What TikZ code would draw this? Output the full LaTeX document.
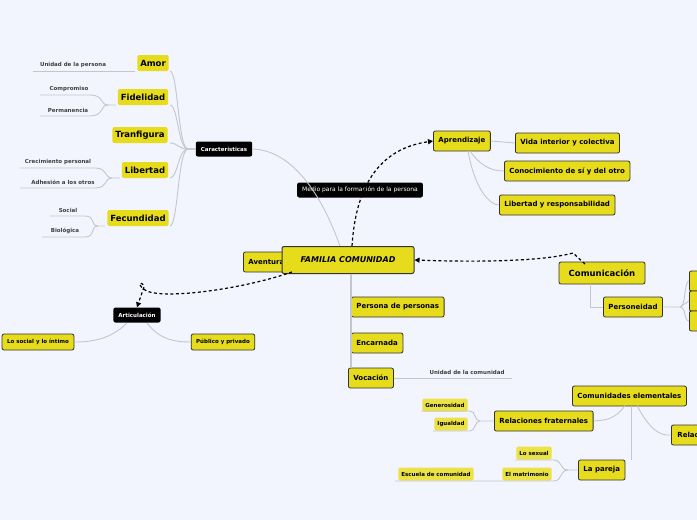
\documentclass[tikz,border=0pt]{standalone}
\usepackage{fontspec}
\setmainfont{DejaVu Sans}
\usetikzlibrary{arrows.meta}
\definecolor{bg}{HTML}{F2F5FE}
\definecolor{yel}{HTML}{E6DC1C}
\definecolor{lyel}{HTML}{EBE245}
\definecolor{edge}{HTML}{C4C6CC}
\tikzset{
 yb/.style={draw=black!80,line width=0.8pt,fill=yel,rounded corners=2pt,font=\bfseries\fontsize{7}{8}\selectfont,minimum height=20pt,inner xsep=5pt},
 yt/.style={fill=yel,rounded corners=2pt,font=\bfseries\fontsize{8.5}{9}\selectfont,minimum height=16pt,inner xsep=3pt},
 ly/.style={fill=lyel,rounded corners=1.5pt,font=\bfseries\fontsize{5.5}{6}\selectfont,minimum height=13pt,inner xsep=3pt},
 bk/.style={fill=black,text=white,rounded corners=2pt,font=\bfseries\fontsize{5.5}{6}\selectfont,minimum height=15pt,inner xsep=5pt},
 lb/.style={font=\bfseries\fontsize{5.5}{6}\selectfont,text=black!75},
 ed/.style={draw=edge,line width=0.9pt},
 da/.style={draw=black,line width=1.2pt,dash pattern=on 3pt off 2.5pt,-{Triangle[length=5pt,width=5pt]}},
 mainst/.style={yb,minimum width=132pt,minimum height=27pt,line width=1pt,font=\bfseries\itshape\fontsize{8}{9}\selectfont},
 cut/.style={yb,anchor=west,minimum width=20pt,inner xsep=1.5pt,font=\bfseries\fontsize{5.5}{6}\selectfont}
}
\begin{document}
\begin{tikzpicture}[x=1pt,y=-1pt]
\fill[bg] (0,0) rectangle (697,520);
\clip (0,0) rectangle (697,520);
\node[yb,minimum width=44pt,anchor=west] (avent) at (243,262) {Aventura};
\node[mainst] (main) at (348,260) {FAMILIA COMUNIDAD};
\node[bk] (car) at (224,149) {Características};
\node[bk,font=\fontsize{6}{7}\selectfont] (medio) at (360,190) {Medio para la formación de la persona};
\node[yt] (amor) at (153,63) {Amor};
\node[yt] (fid) at (143,97) {Fidelidad};
\node[yt] (tran) at (140,135) {Tranfigura};
\node[yt] (lib) at (145,170) {Libertad};
\node[yt] (fec) at (138,218) {Fecundidad};
\node[lb] (unp) at (73,65) {Unidad de la persona};
\node[lb] (comp) at (69,89) {Compromiso};
\node[lb] (perm) at (68,110) {Permanencia};
\node[lb] (crec) at (58,162) {Crecimiento personal};
\node[lb] (adh) at (63,182) {Adhesión a los otros};
\node[lb] (soc) at (68,210) {Social};
\node[lb] (bio) at (65,231) {Biológica};
\node[yb,anchor=west] (apr) at (433,141) {Aprendizaje};
\node[yb,anchor=west] (vida) at (515,143) {Vida interior y colectiva};
\node[yb,anchor=west] (cono) at (504,171) {Conocimiento de sí y del otro};
\node[yb,anchor=west] (lyr) at (499,205) {Libertad y responsabilidad};
\node[yb,font=\bfseries\fontsize{8.5}{9}\selectfont,minimum height=22pt,minimum width=86pt] (comu) at (602,273) {Comunicación};
\node[yb,anchor=west] (pers) at (603,307) {Personeidad};
\node[cut] (s1) at (689,281) {S\hspace{12pt}};
\node[cut] (s2) at (689,301) {C\hspace{12pt}};
\node[cut] (s3) at (689,321) {D\hspace{12pt}};
\node[yb,anchor=west] (pdp) at (351,307) {Persona de personas};
\node[yb,anchor=west] (enc) at (351,343) {Encarnada};
\node[yb,anchor=west] (voc) at (348,378) {Vocación};
\node[lb] (udc) at (467,372) {Unidad de la comunidad};
\node[yb,anchor=west] (cel) at (572,396) {Comunidades elementales};
\node[yb,anchor=west,inner xsep=6pt] (rela) at (671,435) {Relaciones};
\node[yb,anchor=west] (rfr) at (494,421) {Relaciones fraternales};
\node[ly] (gen) at (445,405) {Generosidad};
\node[ly] (igu) at (451,424) {Igualdad};
\node[yb,anchor=west] (par) at (578,470) {La pareja};
\node[ly] (sex) at (534,453) {Lo sexual};
\node[ly] (mat) at (527,474) {El matrimonio};
\node[ly] (esc) at (436,474) {Escuela de comunidad};
\node[bk] (art) at (137,315) {Articulación};
\node[yb,minimum height=16pt,font=\bfseries\fontsize{5.5}{6}\selectfont] (lsi) at (38,342) {Lo social y lo íntimo};
\node[yb,minimum height=16pt,font=\bfseries\fontsize{5.5}{6}\selectfont] (pyp) at (223,342) {Público y privado};
\draw[ed] (car.east) .. controls (290,150) and (320,190) .. (340,246);
\foreach \n/\y in {amor/71,fid/105,tran/143,lib/178,fec/226}
  \draw[ed] (car.west) -- (188,149) .. controls (178,149) and (178,\y) .. (170,\y);
\draw[ed] (33,71) -- (135,71);
\draw[ed] (116,105) -- (108,105) .. controls (100,105) and (104,95) .. (90,95) -- (40,95);
\draw[ed] (108,105) .. controls (100,105) and (104,116) .. (90,116) -- (40,116);
\draw[ed] (120,178) -- (112,178) .. controls (104,178) and (108,168) .. (95,168) -- (20,168);
\draw[ed] (112,178) .. controls (104,178) and (108,188) .. (95,188) -- (20,188);
\draw[ed] (105,226) -- (98,226) .. controls (90,226) and (96,216) .. (85,216) -- (50,216);
\draw[ed] (98,226) .. controls (90,226) and (96,237) .. (85,237) -- (42,237);
\draw[ed,line width=1.6pt] (351,273.5) -- (351,368);
\draw[ed] (351,307) -- (pdp.west);
\draw[ed] (351,343) -- (enc.west);
\draw[ed] (voc.east) -- (512,378);
\draw[ed] (apr.east) -- (vida.west);
\draw[ed] (470,151) .. controls (480,165) and (490,171) .. (cono.west);
\draw[ed] (468,151) .. controls (475,190) and (490,205) .. (lyr.west);
\draw[ed] (590,284) -- (590,307) -- (pers.west);
\draw[ed] (pers.east) -- (680,307) .. controls (686,307) and (684,281) .. (s1.west);
\draw[ed] (680,307) -- (s2.west);
\draw[ed] (680,307) .. controls (686,307) and (684,321) .. (s3.west);
\draw[ed] (631,405.5) -- (631,460);
\draw[ed] (625,405.5) .. controls (615,420) and (605,420) .. (rfr.east);
\draw[ed] (637,405.5) .. controls (650,430) and (660,436) .. (rela.west);
\draw[ed] (rfr.west) -- (480,421) .. controls (474,421) and (476,411) .. (470,411) -- (421,411);
\draw[ed] (480,421) .. controls (474,421) and (476,431) .. (470,431) -- (433,431);
\draw[ed] (par.west) -- (568,470) .. controls (560,470) and (562,460) .. (554,460) -- (515,460);
\draw[ed] (568,470) .. controls (560,470) and (562,481) .. (554,481) -- (395,481);
\draw[ed] (127,323) .. controls (110,340) and (90,342) .. (lsi.east);
\draw[ed] (147,323) .. controls (160,340) and (175,342) .. (pyp.west);
\draw[da] (352,246) .. controls (355,200) and (370,150) .. (apr.west);
\draw[da] (585,264) -- (573,253) .. controls (540,262) and (470,262) .. (main.east);
\draw[da] (292,272) .. controls (240,290) and (160,300) .. (145,290) .. controls (135,283) and (142,280) .. (144,287) -- (art.north);
\end{tikzpicture}
\end{document}
